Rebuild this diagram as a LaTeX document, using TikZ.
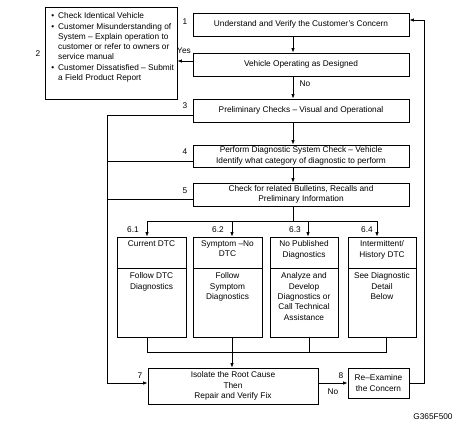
\documentclass[tikz,border=0pt]{standalone}
\usepackage{fontspec}
\setmainfont{Liberation Sans}
\usetikzlibrary{arrows.meta}
\begin{document}
\begin{tikzpicture}[x=1pt,y=-1pt,
  font=\fontsize{8.3}{10.3}\selectfont,
  box/.style={draw, line width=0.8pt, inner sep=0pt, align=center},
  arr/.style={-{Latex[length=4.5pt,width=3.5pt]}, line width=0.8pt},
  ln/.style={line width=0.8pt},
  lbl/.style={inner sep=0pt, align=center},
  txt/.style={inner sep=0pt, align=center, anchor=north}]
\useasboundingbox (0,0) rectangle (474,434);

% main column boxes
\node[box, minimum width=216pt, minimum height=23pt] (n1) at (301,24.5) {Understand and Verify the Customer's Concern};
\node[box, minimum width=216pt, minimum height=23pt] (nv) at (301,64.5) {Vehicle Operating as Designed};
\node[box, minimum width=216pt, minimum height=23pt] (n3) at (301,110.5) {Preliminary Checks -- Visual and Operational};
\node[box, minimum width=216pt, minimum height=22pt] (n4) at (301,156) {Perform Diagnostic System Check -- Vehicle\\Identify what category of diagnostic to perform};
\node[box, minimum width=216pt, minimum height=23pt] (n5) at (301,194.5) {Check for related Bulletins, Recalls and\\Preliminary Information};

% box 2
\node[box, minimum width=132pt, minimum height=92pt] (n2) at (111,53) {};
\node[inner sep=0pt, anchor=north west, align=left] (t2) at (58,12.5)
 {\llap{\textbullet\hspace{4pt}}Check Identical Vehicle\\
  \llap{\textbullet\hspace{4pt}}Customer Misunderstanding of\\
  System -- Explain operation to\\
  customer or refer to owners or\\
  service manual\\
  \llap{\textbullet\hspace{4pt}}Customer Dissatisfied -- Submit\\
  a Field Product Report};

% 6.x boxes
\node[box, minimum width=69pt, minimum height=31pt] (b1t) at (151.5,252.5) {};
\node[box, minimum width=69pt, minimum height=69pt] (b1b) at (151.5,302.5) {};
\node[box, minimum width=69pt, minimum height=31pt] (b2t) at (227.5,252.5) {};
\node[box, minimum width=69pt, minimum height=69pt] (b2b) at (227.5,302.5) {};
\node[box, minimum width=68pt, minimum height=31pt] (b3t) at (304,252.5) {};
\node[box, minimum width=68pt, minimum height=69pt] (b3b) at (304,302.5) {};
\node[box, minimum width=68pt, minimum height=31pt] (b4t) at (382,252.5) {};
\node[box, minimum width=68pt, minimum height=69pt] (b4b) at (382,302.5) {};

\node[txt] (x1t) at ([yshift=-4pt]b1t.north) {Current DTC};
\node[txt] (x1b) at ([yshift=-5pt]b1b.north) {Follow DTC\\Diagnostics};
\node[txt] (x2t) at ([yshift=-4pt]b2t.north) {Symptom --No\\DTC};
\node[txt] (x2b) at ([yshift=-5pt]b2b.north) {Follow\\Symptom\\Diagnostics};
\node[txt] (x3t) at ([yshift=-4pt]b3t.north) {No Published\\Diagnostics};
\node[txt] (x3b) at ([yshift=-5pt]b3b.north) {Analyze and\\Develop\\Diagnostics or\\Call Technical\\Assistance};
\node[txt] (x4t) at ([yshift=-4pt]b4t.north) {Intermittent/\\History DTC};
\node[txt] (x4b) at ([yshift=-5pt]b4b.north) {See Diagnostic\\Detail\\Below};

% boxes 7, 8
\node[box, minimum width=170pt, minimum height=36pt] (n7) at (233,386) {Isolate the Root Cause\\Then\\Repair and Verify Fix};
\node[box, minimum width=61pt, minimum height=30pt] (n8) at (378.5,383) {Re--Examine\\the Concern};

% labels
\node[lbl] (l1) at (185,22) {1};
\node[lbl] (l2) at (38,54) {2};
\node[lbl] (l3) at (185,106) {3};
\node[lbl] (l4) at (185,152) {4};
\node[lbl] (l5) at (185,191) {5};
\node[lbl] (l61) at (133,230) {6.1};
\node[lbl] (l62) at (218,230) {6.2};
\node[lbl] (l63) at (295,230) {6.3};
\node[lbl] (l64) at (367,230) {6.4};
\node[lbl] (l7) at (140,376) {7};
\node[lbl] (l8) at (341,376) {8};
\node[lbl] (lyes) at (184,51) {Yes};
\node[lbl] (lno1) at (305,84) {No};
\node[lbl] (lno2) at (333,392) {No};
\node[lbl] (fig) at (433,417) {G365F500};

% connectors main column
\draw[arr] ([xshift=-8pt]n1.south) -- ([xshift=-8pt]nv.north);
\draw[arr] ([xshift=-8pt]nv.south) -- ([xshift=-8pt]n3.north);
\draw[arr] ([xshift=-8pt]n3.south) -- ([xshift=-8pt]n4.north);
\draw[arr] ([xshift=-8pt]n4.south) -- ([xshift=-8pt]n5.north);
\draw[arr] ([yshift=3.5pt]nv.west) -- ([yshift=3.5pt]nv.west -| n2.east);

% right loop
\coordinate (rb) at (424,383);
\draw[arr] (n8.east) -- (rb) |- ([yshift=4.5pt]n1.east);

% left loop
\coordinate (lt) at (107,115);
\coordinate (lb) at (107,383);
\draw[arr] ([yshift=-4.5pt]n3.west) -- (lt) -- (lb) -- ([yshift=3pt]n7.west);
\draw[ln] ([yshift=-5pt]n4.west) -- ([yshift=-5pt]n4.west -| lt);
\draw[ln] ([yshift=-4.5pt]n5.west) -- ([yshift=-4.5pt]n5.west -| lt);

% split to 6.x
\coordinate (sp) at (293,221);
\coordinate (s1) at (147,221);
\coordinate (s2) at (232,221);
\coordinate (s3) at (308,221);
\coordinate (s4) at (377,221);
\draw[ln] ([xshift=-8pt]n5.south) -- (sp);
\draw[ln] (s1) -- (s4);
\draw[arr] (s1) -- (s1 |- b1t.north);
\draw[arr] (s2) -- (s2 |- b2t.north);
\draw[arr] (s3) -- (s3 |- b3t.north);
\draw[arr] (s4) -- (s4 |- b4t.north);

% merge to 7
\coordinate (m1) at (147,352);
\coordinate (m3) at (309,352);
\coordinate (m4) at (386,352);
\draw[ln] (m1 |- b1b.south) -- (m1) -- (m4) -- (m4 |- b4b.south);
\draw[ln] (m3 |- b3b.south) -- (m3);
\draw[arr] (232,0 |- b2b.south) -- (232,0 |- n7.north);

% 7 -> 8
\draw[arr] ([yshift=3pt]n7.east) -- (n8.west);
\end{tikzpicture}
\end{document}
